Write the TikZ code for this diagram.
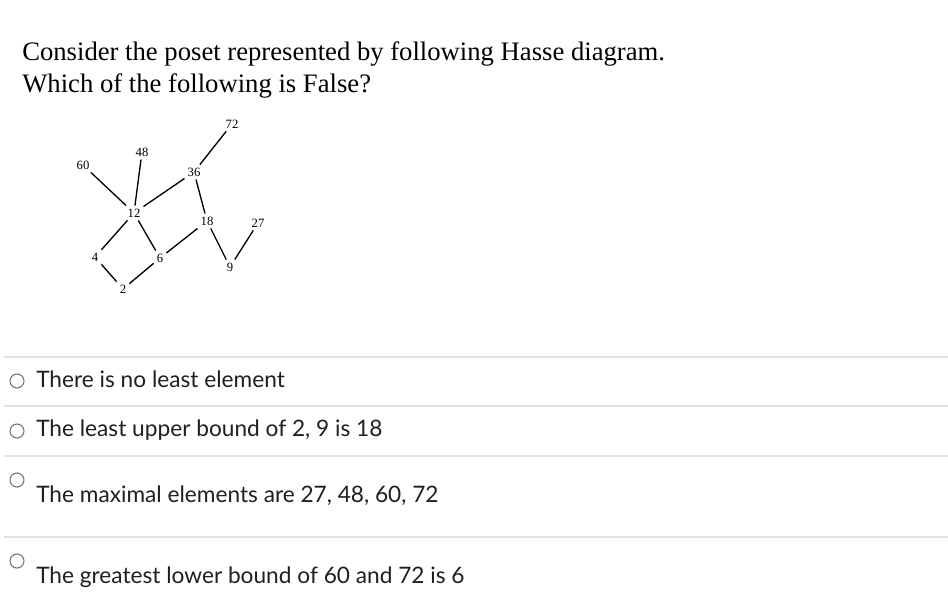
\documentclass[tikz,border=0pt]{standalone}
\usepackage{fontspec}
\setmainfont{Liberation Serif}
\newfontfamily\latofont{Lato}
\usepackage{tikz}
\usetikzlibrary{calc}
\usetikzlibrary{positioning}

\definecolor{rulegray}{HTML}{DEE2E6}
\definecolor{radiogray}{HTML}{6A737B}
\definecolor{opttext}{HTML}{1D2125}

\tikzset{
  elem/.style={inner sep=2.2pt, font=\fontsize{9.5}{10}\selectfont},
  cover/.style={line width=1pt},
  question/.style={anchor=base west, inner sep=0pt, font=\fontsize{20}{22}\selectfont},
  choice/.style={anchor=base west, inner sep=0pt, text=opttext, font=\latofont\fontsize{17}{20}\selectfont},
  radio/.style={draw=radiogray, line width=0.8pt},
  sep/.style={draw=rulegray, line width=0.8pt}
}

\begin{document}
\begin{tikzpicture}[x=0.75pt, y=-0.75pt]
\useasboundingbox[fill=white] (0,0) rectangle (948,611);

% question
\node[question] (q1) at (22,60) {Consider the poset represented by following Hasse diagram.};
\node[question] (q2) at (22,92) {Which of the following is False?};

% hasse diagram
\node[elem] (n72) at (232,124) {72};
\node[elem] (n48) at (142,152) {48};
\node[elem] (n60) at (83,165) {60};
\node[elem] (n36) at (194,172) {36};
\node[elem] (n12) at (134,213) {12};
\node[elem] (n18) at (207,221) {18};
\node[elem] (n27) at (258,223) {27};
\node[elem] (n4) at (95,257) {4};
\node[elem] (n6) at (160,258) {6};
\node[elem] (n9) at (230,267) {9};
\node[elem] (n2) at (123,289) {2};

\draw[cover] (n72) -- (n36);
\draw[cover] (n60) -- (n12);
\draw[cover] (n48) -- (n12);
\draw[cover] (n36) -- (n12);
\draw[cover] (n36) -- (n18);
\draw[cover] (n12) -- (n4);
\draw[cover] (n12) -- (n6);
\draw[cover] (n18) -- (n6);
\draw[cover] (n18) -- (n9);
\draw[cover] (n27) -- (n9);
\draw[cover] (n4) -- (n2);
\draw[cover] (n6) -- (n2);

% answers
\foreach \y in {357,406,456,537}
  \draw[sep] (4,\y) -- (948,\y);

\draw[radio] (17,381) circle (7);
\draw[radio] (17,431) circle (7);
\draw[radio] (17,480) circle (7);
\draw[radio] (17,561) circle (7);

\node[choice] (a1) at (36,387) {There is no least element};
\node[choice] (a2) at (36,436) {The least upper bound of 2, 9 is 18};
\node[choice] (a3) at (36,502) {The maximal elements are 27, 48, 60, 72};
\node[choice] (a4) at (36,583) {The greatest lower bound of 60 and 72 is 6};
\end{tikzpicture}
\end{document}
